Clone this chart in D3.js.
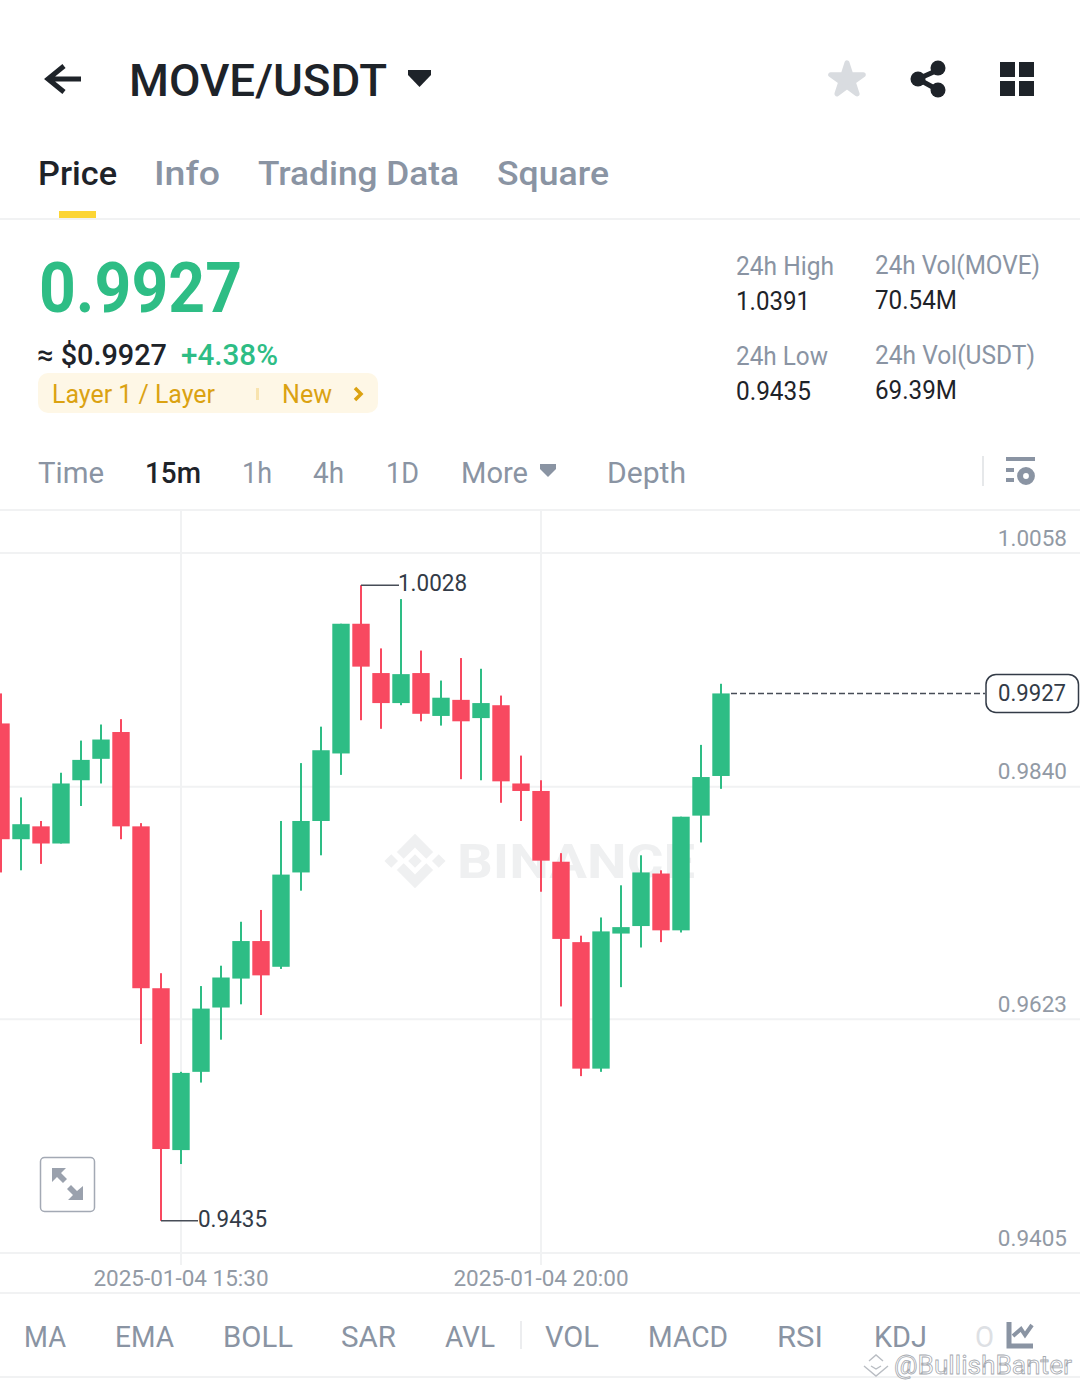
<!DOCTYPE html>
<html><head><meta charset="utf-8">
<style>html,body{margin:0;padding:0;background:#fff}svg{display:block}text{font-family:Roboto,sans-serif}</style>
<script src="https://cdnjs.cloudflare.com/ajax/libs/d3/7.8.5/d3.min.js"></script>
</head><body><div id="c"></div>
<script>
const times=["13:15","13:30","13:45","14:00","14:15","14:30","14:45","15:00","15:15","15:30","15:45","16:00","16:15","16:30","16:45","17:00","17:15","17:30","17:45","18:00","18:15","18:30","18:45","19:00","19:15","19:30","19:45","20:00","20:15","20:30","20:45","21:00","21:15","21:30","21:45","22:00","22:15"];
const opens=[.9899,.9791,.9803,.9787,.9846,.9866,.9891,.9803,.9652,.9501,.9574,.9634,.9661,.9696,.9672,.9760,.9808,.9871,.9992,.9946,.9918,.9946,.9906,.9921,.9904,.9916,.9843,.9836,.9770,.9695,.9577,.9703,.9710,.9759,.9706,.9813,.9850];
const highs=[.9927,.9830,.9808,.9853,.9883,.9898,.9903,.9806,.9666,.9574,.9654,.9673,.9714,.9725,.9808,.9862,.9896,.9992,1.0028,.9969,1.0015,.9967,.9939,.9960,.9950,.9925,.9869,.9846,.9778,.9701,.9718,.9748,.9776,.9762,.9812,.9879,.9936];
const lows=[.9760,.9762,.9768,.9787,.9822,.9843,.9791,.9600,.9435,.9488,.9564,.9604,.9637,.9627,.9670,.9743,.9776,.9851,.9902,.9894,.9916,.9901,.9897,.9847,.9846,.9825,.9808,.9742,.9635,.9570,.9574,.9653,.9690,.9695,.9704,.9788,.9838];
const closes=[.9791,.9805,.9787,.9843,.9865,.9884,.9803,.9652,.9502,.9573,.9633,.9662,.9696,.9664,.9758,.9808,.9874,.9992,.9952,.9918,.9945,.9908,.9923,.9901,.9918,.9845,.9836,.9771,.9698,.9577,.9705,.9709,.9760,.9706,.9812,.9849,.9927];
const priceTicks=[1.0058,0.9840,0.9623,0.9405];
const timeTicks=["15:30","20:00"];
const datePrefix="2025-01-04 ";
const lastPrice=0.9927, chartHigh=1.0028, chartLow=0.9435;

const GREEN="#2EBD85",RED="#F84960",DARK="#1E2329",GREY="#8A94A3",LINE="#F1F2F3";
const svg=d3.select("#c").append("svg").attr("width",1080).attr("height",1388).attr("viewBox","0 0 1080 1388");
svg.append("rect").attr("width",1080).attr("height",1388).attr("fill","#fff");
const x=d3.scalePoint().domain(times).range([1,721]);
const y=d3.scaleLinear().domain([0.9405,1.0058]).range([1253,553]);

function T(s,px,py,size,fill,w,weight){
  const t=svg.append("text").attr("x",px-1).attr("y",py).attr("font-size",size).attr("fill",fill).attr("font-weight",weight||400).text(s);
  if(w) t.attr("textLength",w).attr("lengthAdjust","spacingAndGlyphs");
  return t;
}
function hline(py){svg.append("rect").attr("x",0).attr("y",py-1).attr("width",1080).attr("height",2).attr("fill",LINE);}
[219,510,1293,1377].forEach(hline);

// header
svg.append("path").attr("d","M81 79H50M64 66L48 79L64 92").attr("fill","none").attr("stroke",DARK).attr("stroke-width",5);
T("MOVE/USDT",130,96,45,DARK,258,500);
svg.append("path").attr("d","M408 70H431V75L419.5 87L408 75Z").attr("fill",DARK);
svg.append("path").attr("d",d3.symbol(d3.symbolStar,330)()).attr("transform","translate(847,80)").attr("fill","#D9DCE0").attr("stroke","#D9DCE0").attr("stroke-width",5).attr("stroke-linejoin","round");
svg.append("path").attr("d","M938 70L918 79L938 90").attr("fill","none").attr("stroke",DARK).attr("stroke-width",5);
[[938,68],[918,79],[938,90]].forEach(p=>svg.append("circle").attr("cx",p[0]).attr("cy",p[1]).attr("r",7.5).attr("fill",DARK));
[[1000,62],[1019,62],[1000,81],[1019,81]].forEach(p=>svg.append("rect").attr("x",p[0]).attr("y",p[1]).attr("width",15).attr("height",15).attr("fill",DARK));

// tabs
T("Price",39,185,34,DARK,79,500);
T("Info",155,185,34,GREY,66,500);
T("Trading Data",259,185,34,GREY,201,500);
T("Square",498,185,34,GREY,112,500);
svg.append("rect").attr("x",59).attr("y",211).attr("width",37).attr("height",7).attr("fill","#FCD535");

// price block
T("0.9927",40,312,70,GREEN,203,700);
T("≈ $0.9927",38,365,29,DARK,130,500);
T("+4.38%",182,365,29,GREEN,97,500);
svg.append("rect").attr("x",38).attr("y",373).attr("width",340).attr("height",40).attr("rx",10).attr("fill","#FEF7E6");
T("Layer 1 / Layer",53,403,26,"#DBA212",163);
svg.append("rect").attr("x",256).attr("y",388).attr("width",3).attr("height",12).attr("fill","#F8E3AE");
T("New",283,403,26,"#DBA212",50);
svg.append("path").attr("d","M355 388L361 394L355 400").attr("fill","none").attr("stroke","#DBA212").attr("stroke-width",3.5);

// stats
T("24h High",737,275,26,GREY,98);
T("1.0391",737,310,26,DARK,74);
T("24h Vol(MOVE)",876,274,26,GREY,165);
T("70.54M",876,309,26,DARK,82);
T("24h Low",737,365,26,GREY,92);
T("0.9435",737,400,26,DARK,75);
T("24h Vol(USDT)",876,364,26,GREY,160);
T("69.39M",876,399,26,DARK,82);

// intervals
T("Time",39,483,30,GREY,66);
T("15m",146,483,30,DARK,56,500);
T("1h",243,483,30,GREY,30);
T("4h",314,483,30,GREY,31);
T("1D",387,483,30,GREY,33);
T("More",462,483,30,GREY,67);
svg.append("path").attr("d","M540 464H556V469L548 477L540 469Z").attr("fill",GREY);
T("Depth",608,483,30,GREY,79);
svg.append("rect").attr("x",982).attr("y",456).attr("width",2).attr("height",30).attr("fill","#E6E8EA");
svg.append("rect").attr("x",1006).attr("y",457).attr("width",29).attr("height",4).attr("fill",GREY);
svg.append("rect").attr("x",1006).attr("y",468).attr("width",8).attr("height",4).attr("fill",GREY);
svg.append("rect").attr("x",1006).attr("y",478).attr("width",8).attr("height",4).attr("fill",GREY);
svg.append("path").attr("d",d3.symbol(d3.symbolCircle,110)()).attr("transform","translate(1026,476)").attr("fill","none").attr("stroke",GREY).attr("stroke-width",6);

// grid and axes
const gy=svg.append("g").attr("transform","translate(1080,0)").call(d3.axisLeft(y).offset(0).tickValues(priceTicks).tickSize(1080).tickFormat(d3.format(".4f")));
gy.select(".domain").remove();
gy.selectAll("line").attr("stroke",LINE).attr("stroke-width",2);
gy.selectAll("text").attr("x",-13).attr("dy",0).attr("y",-7.5).attr("font-size",22.5).attr("fill","#929AA5").attr("text-anchor","end").attr("font-family","Roboto,sans-serif");
const gx=svg.append("g").attr("transform","translate(0,1265)").call(d3.axisBottom(x).offset(0).tickValues(timeTicks).tickSizeInner(-754).tickSizeOuter(0).tickFormat(d=>datePrefix+d));
gx.select(".domain").remove();
gx.selectAll("line").attr("stroke",LINE).attr("stroke-width",2);
gx.selectAll("text").attr("y",21).attr("dy",0).attr("font-size",22.5).attr("fill","#929AA5").attr("text-anchor","middle").attr("font-family","Roboto,sans-serif");

// watermark
const WM="#EFF0F1";
const wm=svg.append("g").attr("transform","translate(415,861) rotate(45) scale(0.8)").attr("fill",WM);
wm.append("rect").attr("x",-6).attr("y",-6).attr("width",12).attr("height",12);
wm.append("rect").attr("x",-27).attr("y",15).attr("width",12).attr("height",12);
wm.append("rect").attr("x",15).attr("y",-27).attr("width",12).attr("height",12);
wm.append("path").attr("d","M-24 -24H8V-12H-12V8H-24Z");
wm.append("path").attr("d","M24 24H-8V12H12V-8H24Z");
T("BINANCE",458,878,48,WM,238,700);

// candles
const idx=d3.range(times.length);
const bw=17.4, ww=2;
const color=i=>closes[i]>=opens[i]?GREEN:RED;
const g=svg.append("g");
g.selectAll(".w").data(idx).join("rect").attr("class","w")
 .attr("x",i=>x(times[i])-ww/2).attr("width",ww)
 .attr("y",i=>y(highs[i])).attr("height",i=>y(lows[i])-y(highs[i])).attr("fill",color);
g.selectAll(".b").data(idx).join("rect").attr("class","b")
 .attr("x",i=>x(times[i])-bw/2).attr("width",bw)
 .attr("y",i=>y(Math.max(opens[i],closes[i])))
 .attr("height",i=>Math.max(1,Math.abs(y(opens[i])-y(closes[i])))).attr("fill",color);

// high / low callouts
const iHi=highs.indexOf(chartHigh), iLo=lows.indexOf(chartLow);
svg.append("line").attr("x1",x(times[iHi])).attr("x2",399).attr("y1",y(chartHigh)).attr("y2",y(chartHigh)).attr("stroke","#474D57").attr("stroke-width",1.5);
T(d3.format(".4f")(chartHigh),399,y(chartHigh)+6,23,"#333B47",69);
svg.append("line").attr("x1",x(times[iLo])).attr("x2",198).attr("y1",y(chartLow)).attr("y2",y(chartLow)).attr("stroke","#474D57").attr("stroke-width",1.5);
T(d3.format(".4f")(chartLow),199,y(chartLow)+6,23,"#333B47",69);

// last price
svg.append("line").attr("x1",731).attr("x2",985).attr("y1",y(lastPrice)).attr("y2",y(lastPrice)).attr("stroke","#474D57").attr("stroke-width",1.5).attr("stroke-dasharray","6 3");
svg.append("rect").attr("x",986).attr("y",y(lastPrice)-19).attr("width",92.5).attr("height",38).attr("rx",10).attr("fill","#fff").attr("stroke","#333B47").attr("stroke-width",1.5);
T(d3.format(".4f")(lastPrice),999,y(lastPrice)+8,23,"#333B47",68);

// expand button
svg.append("rect").attr("x",40.5).attr("y",1157.5).attr("width",54).attr("height",54).attr("rx",4).attr("fill","#fff").attr("stroke","#A3A9B4").attr("stroke-width",1.5);
svg.append("path").attr("d","M52 1168H66L61 1173L67 1179L63 1183L57 1177L52 1182Z").attr("fill","#9AA1AD");
svg.append("path").attr("d","M83 1200H68L73 1195L67 1189L71 1185L77 1191L83 1186Z").attr("fill","#9AA1AD");

// indicators
T("MA",25,1347,30,GREY,42);
T("EMA",116,1347,30,GREY,59);
T("BOLL",224,1347,30,GREY,70);
T("SAR",342,1347,30,GREY,55);
T("AVL",446,1347,30,GREY,50);
svg.append("rect").attr("x",520).attr("y",1321).attr("width",2).attr("height",28).attr("fill","#ECEDEF");
T("VOL",546,1347,30,GREY,54);
T("MACD",649,1347,30,GREY,80);
T("RSI",778,1347,30,GREY,46);
T("KDJ",875,1347,30,GREY,53);
T("O",976,1347,30,"#DDE0E4",19);
svg.append("path").attr("d","M1009 1322V1346H1033").attr("fill","none").attr("stroke",GREY).attr("stroke-width",5);
svg.append("path").attr("d","M1013 1336L1021 1329L1025 1335L1032 1325").attr("fill","none").attr("stroke",GREY).attr("stroke-width",4);

// corner mark
svg.append("path").attr("d","M864 1366L876 1376L888 1366M869 1361L876 1355L883 1361M871 1366L876 1369L881 1366").attr("fill","none").attr("stroke","#B9BDC3").attr("stroke-width",1.4);
T("@BullishBanter",895,1374,26,"#fff",178).attr("stroke","#A5A9AF").attr("stroke-width",0.8);
</script></body></html>
